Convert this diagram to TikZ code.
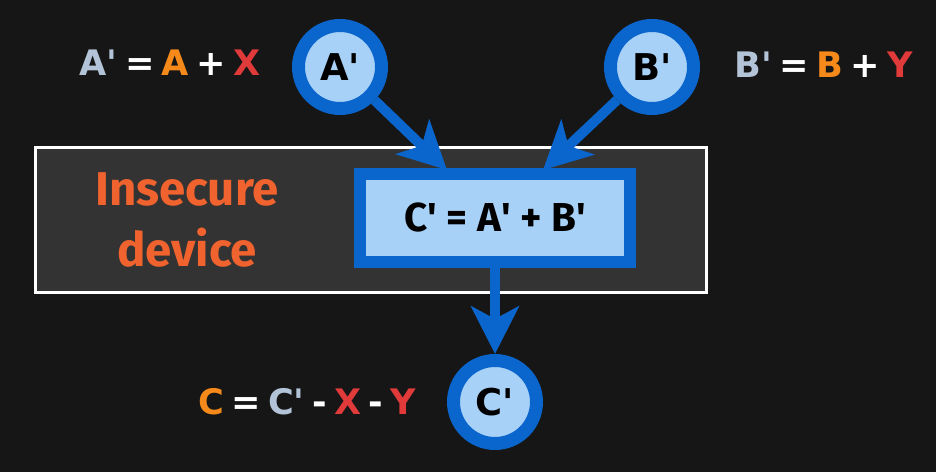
\documentclass[tikz,border=0pt]{standalone}
\usepackage{fontspec}
\usetikzlibrary{arrows.meta}
\newfontfamily\lblfont{DejaVu Sans}
\newfontfamily\devfont{Fira Sans}
\definecolor{bgdark}{HTML}{161616}
\definecolor{panelgray}{HTML}{333333}
\definecolor{ringblue}{HTML}{0A66CC}
\definecolor{fillblue}{HTML}{A8D1F8}
\definecolor{lblgray}{HTML}{B4C4D8}
\definecolor{lblorange}{HTML}{F58A1A}
\definecolor{lblred}{HTML}{E03A3A}
\definecolor{devorange}{HTML}{F0622E}
\newcommand{\pr}{\textquotesingle}
\newcommand{\gap}{\hspace{0.21em}}
\tikzset{
  valnode/.style={circle, draw=ringblue, fill=fillblue, line width=0.26cm,
    minimum size=1.66cm, inner sep=0pt, font=\lblfont\bfseries\fontsize{21}{24}\selectfont},
  flow/.style={draw=ringblue, line width=0.2cm,
    -{Stealth[length=0.95cm, width=0.95cm, inset=0.25cm]}},
  eqlabel/.style={font=\lblfont\bfseries\fontsize{20}{24}\selectfont, white}
}
\begin{document}
\begin{tikzpicture}[x=0.02cm, y=-0.02cm]
      \fill[bgdark] (0,0) rectangle (936,472);
      \draw[white, fill=panelgray, line width=0.06cm] (35,148) rectangle (706,293);
      \node[font=\devfont\bfseries\fontsize{27}{30}\selectfont, devorange, align=center] (insecure) at (187,220) {Insecure\\[5pt]device};
      \node[draw=ringblue, fill=fillblue, line width=0.24cm, minimum width=5.4cm, minimum height=1.76cm,
        font=\devfont\bfseries\fontsize{23}{26}\selectfont] (sumbox) at (495,218) {C\pr{} = A\pr{} + B\pr};
      \node[valnode] (nodeA) at (340,67) {A\pr};
      \node[valnode] (nodeB) at (652,67) {B\pr};
      \node[valnode] (nodeC) at (495,402) {C\pr};
      \coordinate (tipA) at (447,170);
      \coordinate (tipB) at (543,170);
      \coordinate (tipC) at (495,354);
      \draw[flow] (nodeA) -- (tipA);
      \draw[flow] (nodeB) -- (tipB);
      \draw[flow] (sumbox.south) -- (tipC);
      \node[eqlabel] (eqA) at (170,63) {{\color{lblgray}A\pr}\gap=\gap{\color{lblorange}A}\gap+\gap{\color{lblred}X}};
      \node[eqlabel] (eqB) at (824,65) {{\color{lblgray}B\pr}\gap=\gap{\color{lblorange}B}\gap+\gap{\color{lblred}Y}};
      \node[eqlabel] (eqC) at (307,402) {{\color{lblorange}C}\gap=\gap{\color{lblgray}C\pr}\gap-\gap{\color{lblred}X}\gap-\gap{\color{lblred}Y}};
    \end{tikzpicture}
\end{document}
